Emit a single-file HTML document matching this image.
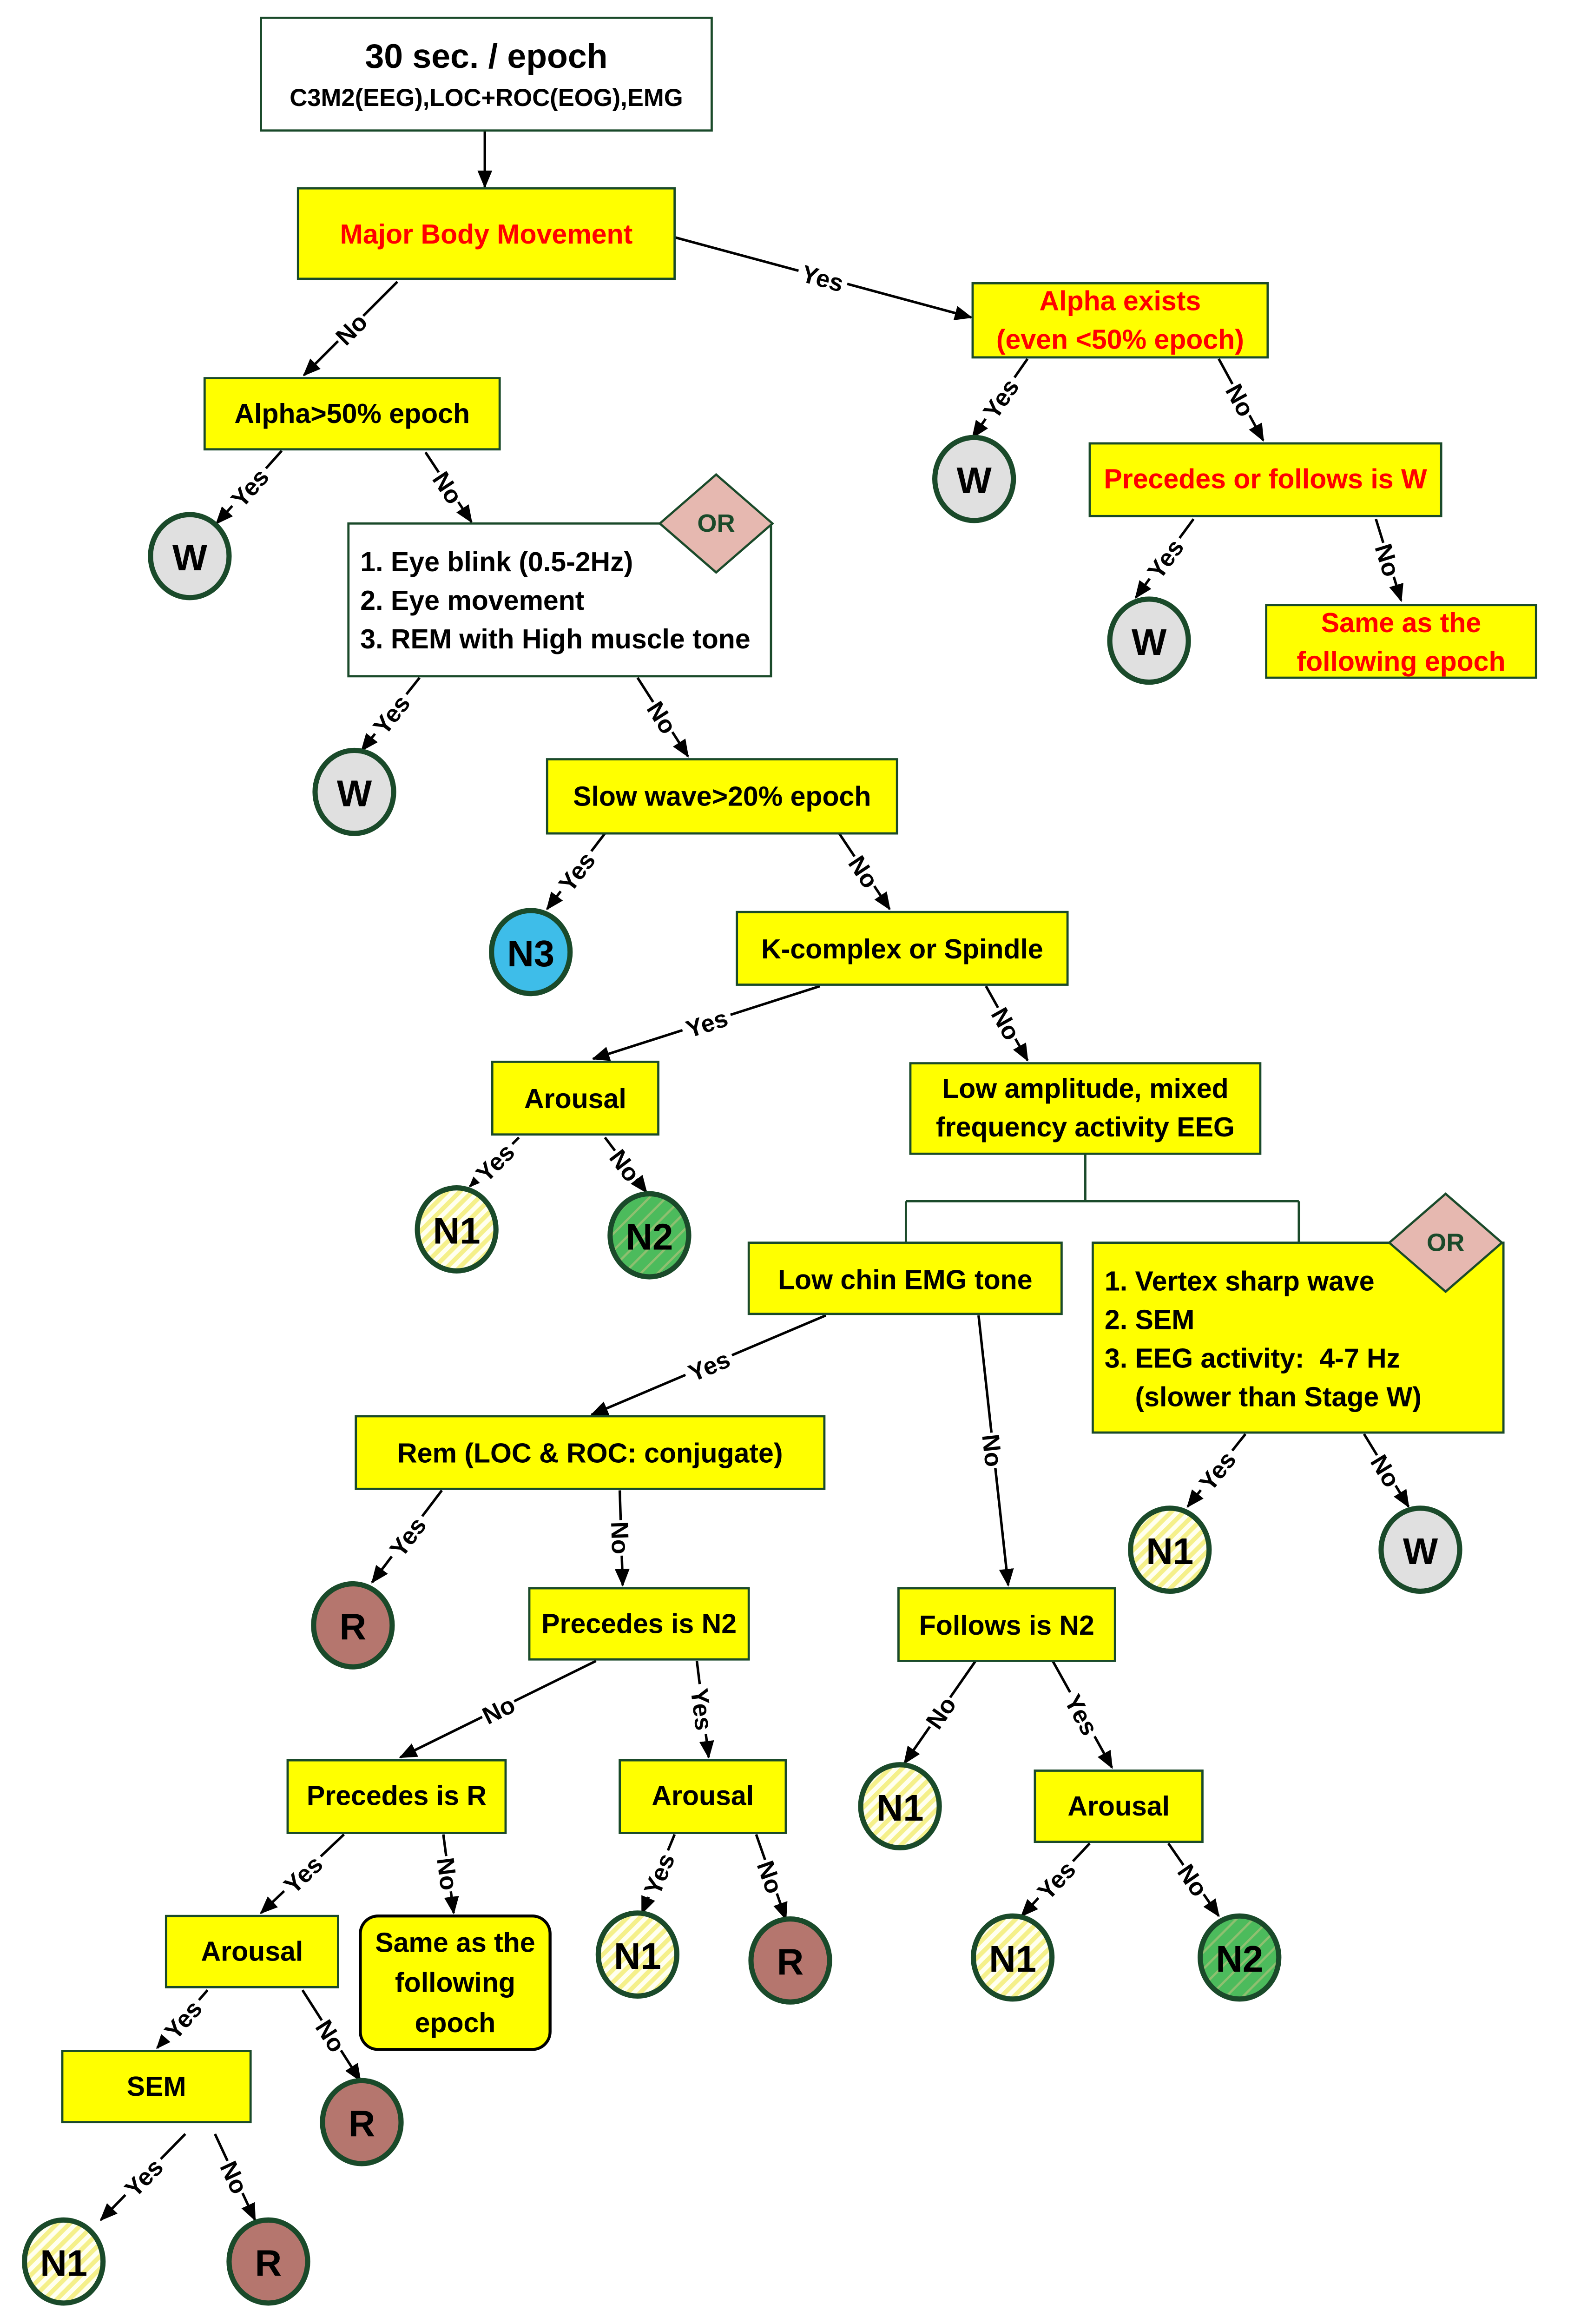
<!DOCTYPE html>
<html><head><meta charset="utf-8">
<style>html,body{margin:0;padding:0;background:#fff;overflow:hidden;width:3387px;height:5057px}svg{display:block;position:absolute;left:0;top:0}
text{font-family:"Liberation Sans",sans-serif;font-weight:bold}</style></head>
<body>
<svg id="s" width="3387" height="5057" viewBox="0 0 1061.6 1585" preserveAspectRatio="none" xmlns="http://www.w3.org/2000/svg">
<defs>
<pattern id="st" width="6" height="6" patternUnits="userSpaceOnUse" patternTransform="rotate(45)">
<rect width="6" height="6" fill="#fffff0"/><rect width="3" height="6" fill="#f5f08a"/></pattern>
<pattern id="gs" width="8" height="8" patternUnits="userSpaceOnUse" patternTransform="rotate(45)">
<rect width="8" height="8" fill="#4cbb5c"/><rect width="1.5" height="8" fill="#8fbf70"/></pattern>
<marker id="ar" markerWidth="12" markerHeight="12" refX="11" refY="6" orient="auto" markerUnits="userSpaceOnUse">
<path d="M0,1 L12,6 L0,11 z" fill="#000"/></marker>
</defs>
<g id="g"></g>
</svg>
<script>
var o='';
var G='#1a4a2a';
function box(x1,y1,x2,y2,lines,opt){opt=opt||{};
 var f=opt.fill||'#ffff00',c=opt.color||'#000',fs=opt.fs||18.5,rx=opt.rx||0;
 o+='<rect x="'+x1+'" y="'+y1+'" width="'+(x2-x1)+'" height="'+(y2-y1)+'" rx="'+rx+'" fill="'+f+'" stroke="'+(opt.stroke||G)+'" stroke-width="'+(opt.sw||1.5)+'"/>';
 lines.forEach(function(l){var anchor=opt.left?'start':'middle';var x=opt.left?opt.left:(x1+x2)/2;
  o+='<text x="'+x+'" y="'+l[1]+'" font-size="'+(l[2]||fs)+'" fill="'+c+'" text-anchor="'+anchor+'" dominant-baseline="central" xml:space="preserve">'+l[0]+'</text>';});
}
function circ(cx,cy,t,f){o+='<ellipse cx="'+cx+'" cy="'+cy+'" rx="26.5" ry="28" fill="'+f+'" stroke="'+G+'" stroke-width="3.5"/>';
 o+='<text x="'+cx+'" y="'+(cy+1)+'" font-size="25" text-anchor="middle" dominant-baseline="central">'+t+'</text>';}
function dia(cx,cy){o+='<path d="M'+cx+','+(cy-33)+' L'+(cx+38)+','+cy+' L'+cx+','+(cy+33)+' L'+(cx-38)+','+cy+' z" fill="#e6b8b0" stroke="'+G+'" stroke-width="1.5"/>';
 o+='<text x="'+cx+'" y="'+cy+'" font-size="17" fill="#1a4a2a" text-anchor="middle" dominant-baseline="central">OR</text>';}
function edge(x1,y1,x2,y2,lab,t){t=t||0.5;
 o+='<line x1="'+x1+'" y1="'+y1+'" x2="'+x2+'" y2="'+y2+'" stroke="#000" stroke-width="1.7" marker-end="url(#ar)"/>';
 if(lab){var mx=x1+(x2-x1)*t,my=y1+(y2-y1)*t;var a=Math.atan2(y2-y1,x2-x1)*180/Math.PI;
  if(a>90)a-=180;if(a<-90)a+=180;
  var w=lab.length*10+4;
  o+='<g transform="translate('+mx+','+my+') rotate('+a+')"><rect x="'+(-w/2)+'" y="-9" width="'+w+'" height="18" fill="#fff"/><text x="0" y="1" font-size="16.5" text-anchor="middle" dominant-baseline="central">'+lab+'</text></g>';}
}
function line(x1,y1,x2,y2){o+='<line x1="'+x1+'" y1="'+y1+'" x2="'+x2+'" y2="'+y2+'" stroke="'+G+'" stroke-width="1.5"/>';}
var W='#e0e0e0',R='#b5766e',N1='url(#st)',N2='url(#gs)',N3='#3ebde9',RED='#ff0000';
edge(327,88,327,126);
edge(455,160,655,214,'Yes');
edge(268,190,205,253,'No');
edge(190,304,146,353,'Yes');
edge(287,305,318,352,'No');
edge(283,457,244,506,'Yes');
edge(430,457,464,510,'No');
edge(408,562,369,613,'Yes');
edge(566,562,600,613,'No');
edge(553,665,400,714,'Yes');
edge(350,767,317,800,'Yes');
edge(408,767,436,804,'No');
edge(665,665,693,715,'No');
line(732,778,732,810);line(611,810,876,810);line(611,810,611,838);line(876,810,876,838);
edge(840,967,801,1016,'Yes');
edge(920,967,950,1016,'No');
edge(557,887,399,954,'Yes');
edge(660,887,680,1069,'No');
edge(298,1005,251,1067,'Yes');
edge(418,1005,420,1069,'No');
edge(658,1120,610,1189,'No');
edge(710,1120,750,1192,'Yes');
edge(735,1243,689,1292,'Yes');
edge(788,1243,822,1292,'No');
edge(402,1120,270,1185,'No');
edge(470,1120,478,1185,'Yes');
edge(455,1237,433,1290,'Yes');
edge(510,1237,530,1294,'No');
edge(232,1237,176,1290,'Yes');
edge(299,1237,306,1290,'No');
edge(140,1342,106,1381,'Yes');
edge(204,1342,243,1403,'No');
edge(125,1439,68,1497,'Yes');
edge(145,1439,172,1497,'No');
edge(693,242,656,295,'Yes');
edge(822,242,852,297,'No');
edge(805,350,766,403,'Yes');
edge(928,350,945,405,'No');
box(176,12,480,88,[['30 sec. / epoch',38,23],['C3M2(EEG),LOC+ROC(EOG),EMG',66,16.5]],{fill:'#fff'});
box(201,127,455,188,[['Major Body Movement',158]],{color:RED});
box(656,191,855,241,[['Alpha exists',203],['(even &lt;50% epoch)',229]],{color:RED});
box(138,255,337,303,[['Alpha&gt;50% epoch',279]]);
circ(128,375,'W',W);
box(235,353,520,456,[['1. Eye blink (0.5-2Hz)',379],['2. Eye movement',405],['3. REM with High muscle tone',431]],{fill:'#fff',left:243});
dia(483,353);
circ(239,534,'W',W);
box(369,512,605,562,[['Slow wave&gt;20% epoch',537]]);
circ(358,642,'N3',N3);
box(497,615,720,664,[['K-complex or Spindle',640]]);
box(332,716,444,765,[['Arousal',741]]);
circ(308,829,'N1',N1);circ(438,833,'N2',N2);
box(614,717,850,778,[['Low amplitude, mixed',734],['frequency activity EEG',760]]);
box(505,838,716,886,[['Low chin EMG tone',863]]);
box(737,838,1014,966,[['1. Vertex sharp wave',864],['2. SEM',890],['3. EEG activity:  4-7 Hz',916],['    (slower than Stage W)',942]],{left:745});
dia(975,838);
circ(789,1045,'N1',N1);circ(958,1045,'W',W);
box(240,955,556,1004,[['Rem (LOC &amp; ROC: conjugate)',980]]);
circ(238,1096,'R',R);
box(357,1071,505,1119,[['Precedes is N2',1095]]);
box(606,1071,752,1120,[['Follows is N2',1096]]);
circ(607,1218,'N1',N1);
box(698,1194,811,1242,[['Arousal',1218]]);
circ(683,1320,'N1',N1);circ(836,1320,'N2',N2);
box(194,1187,341,1236,[['Precedes is R',1211]]);
box(418,1187,530,1236,[['Arousal',1211]]);
circ(430,1318,'N1',N1);circ(533,1322,'R',R);
box(112,1292,228,1340,[['Arousal',1316]]);
box(243,1292,371,1382,[['Same as the',1310],['following',1337],['epoch',1364]],{rx:12,stroke:'#000',sw:2});
box(42,1383,169,1431,[['SEM',1407]]);
circ(244,1431,'R',R);
circ(43,1525,'N1',N1);circ(181,1525,'R',R);
circ(657,323,'W',W);
box(735,299,972,348,[['Precedes or follows is W',323]],{color:RED});
circ(775,432,'W',W);
box(854,408,1036,457,[['Same as the',420],['following epoch',446]],{color:RED});
document.getElementById('g').innerHTML=o;
</script>
</body></html>
